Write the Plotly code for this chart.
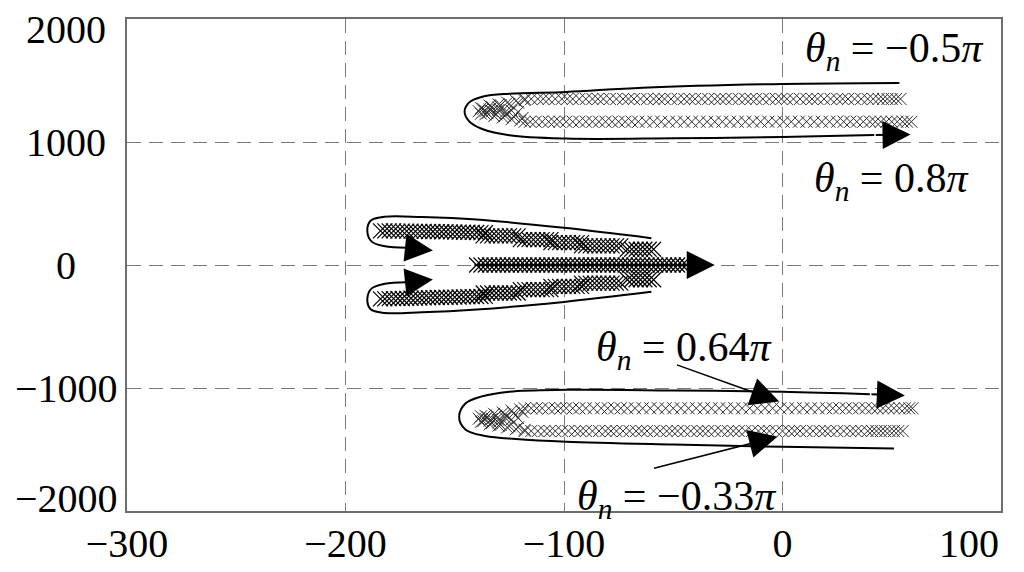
import plotly.graph_objects as go

# ---- marker rows (root locations) ----
# upper branch: two flat rows plus the dense cluster at the left end
TB_UP_Y = 1350
TB_UP_X = [-118, -115, -112, -109.5, -107, -104, -101, -98.5, -96, -93, -90, -87,
           -84.5, -82, -79, -76, -73, -70.5, -68, -65, -62, -59, -56.5, -54, -51,
           -48, -45, -42.5, -40, -37, -34, -31, -28.5, -26, -23, -20, -17, -14.5,
           -12, -9, -6, -3, -0.5, 2, 5, 8, 11, 13.5, 16, 19, 22, 25, 27.5, 30, 33,
           36, 39, 41.5, 44, 46, 48, 50, 52, 54]
TB_LO_Y = 1165
TB_LO_X = [-118, -115.5, -113, -110, -107, -104.5, -102, -99, -96, -93, -90, -87,
           -84, -81, -78, -75, -72, -69, -66, -62.5, -59, -55.5, -52, -48.5, -45,
           -41.5, -38, -34.5, -31, -27.5, -24, -20.5, -17, -13.5, -10, -6.5, -3,
           0.5, 4, 7.5, 11, 14.5, 18, 21.5, 25, 28, 31, 34, 37, 40, 42.5, 45, 47.5,
           50, 52.5, 55, 57, 59]
TB_CL_X = [-139, -137, -135, -133, -131, -129, -127, -125, -123, -121, -119,
           -138, -136, -134, -132, -130, -128, -126, -124, -122, -120, -118,
           -136, -133, -130, -127, -124, -121, -138, -134, -130, -126]
TB_CL_Y = [1250, 1270, 1235, 1285, 1225, 1300, 1215, 1310, 1205, 1320, 1195,
           1275, 1225, 1295, 1210, 1305, 1200, 1320, 1185, 1335, 1175, 1340,
           1250, 1250, 1260, 1240, 1255, 1245, 1230, 1265, 1280, 1230]

# lower branch
BB_UP_Y = -1165
BB_UP_X = [-118, -115, -112.5, -110, -107, -104, -101.5, -99, -96, -93, -90, -86.5,
           -83, -80, -77, -74, -71, -67.5, -64, -60.5, -57, -53.5, -50, -46.5, -43,
           -39.5, -36, -32.5, -29, -25.5, -22, -18.5, -15, -11.5, -8, -4.5, -1, 2.5,
           6, 9.5, 13, 16.5, 20, 23, 26, 29, 32, 35, 38, 41, 43.5, 46, 48.5, 51,
           53.5, 56, 58, 59.5]
BB_LO_Y = -1350
BB_LO_X = [-118, -115, -112, -109, -106.5, -104, -101, -98, -95, -92.5, -90, -87,
           -84, -81, -78.5, -76, -73, -70, -67, -64.5, -62, -59, -56, -53, -50.5,
           -48, -45, -42, -39, -36.5, -34, -31, -28, -25, -22.5, -20, -17, -14,
           -11, -8.5, -6, -3, 0, 3, 5.5, 8, 11, 14, 17, 19.5, 22, 25, 28, 31, 33.5,
           36, 39, 41, 43, 45, 47, 49, 51, 53, 55]
BB_CL_X = [-139, -137, -135, -133, -131, -129, -127, -125, -123, -121, -119,
           -138, -136, -134, -132, -130, -128, -126, -124, -122, -120, -118,
           -136, -133, -130, -127, -124, -121, -138, -134, -130, -126]
BB_CL_Y = [-1250, -1270, -1235, -1285, -1225, -1300, -1215, -1310, -1205, -1320, -1195,
           -1275, -1225, -1295, -1210, -1305, -1200, -1320, -1185, -1335, -1175, -1340,
           -1250, -1250, -1260, -1240, -1255, -1245, -1230, -1265, -1280, -1230]

# middle: stepped upper band, centre row on the real axis, stepped lower band
MID_UP_X = [-184, -182, -180, -178, -176, -174, -172, -170, -168, -166, -164, -162,
            -160, -158, -156, -154, -152, -150, -148, -146, -144, -142, -140, -138,
            -136,
            -137, -135, -133, -131, -129, -127, -125, -123, -121,
            -120, -118, -116, -114, -112, -110, -108, -106,
            -106, -104, -102, -100, -98, -96, -94, -92,
            -92, -90, -88, -86, -84, -82, -80, -78, -76, -74,
            -71, -69, -67, -65, -63, -61, -59]
MID_UP_Y = [278, 278, 277, 277, 276, 276, 275, 275, 274, 273, 273, 272,
            272, 271, 270, 270, 269, 268, 267, 266, 266, 265, 264, 263,
            262,
            237, 237, 237, 237, 237, 237, 237, 237, 237,
            206, 206, 206, 206, 206, 206, 206, 206,
            182, 182, 182, 182, 182, 182, 182, 182,
            155, 155, 155, 155, 155, 155, 155, 155, 155, 155,
            128, 128, 128, 128, 128, 128, 128]
MID_LO_X = [-184, -182, -180, -178, -176, -174, -172, -170, -168, -166, -164, -162,
            -160, -158, -156, -154, -152, -150, -148, -146, -144, -142, -140, -138,
            -136,
            -137, -135, -133, -131, -129, -127, -125, -123, -121,
            -120, -118, -116, -114, -112, -110, -108, -106,
            -106, -104, -102, -100, -98, -96, -94, -92,
            -92, -90, -88, -86, -84, -82, -80, -78, -76, -74,
            -71, -69, -67, -65, -63, -61, -59]
MID_LO_Y = [-275, -275, -274, -273, -272, -272, -271, -270, -269, -268, -267, -266,
            -265, -264, -263, -262, -262, -261, -260, -259, -258, -257, -256, -256,
            -255,
            -228, -228, -228, -228, -228, -228, -228, -228, -228,
            -200, -200, -200, -200, -200, -200, -200, -200,
            -174, -174, -174, -174, -174, -174, -174, -174,
            -147, -147, -147, -147, -147, -147, -147, -147, -147, -147,
            -120, -120, -120, -120, -120, -120, -120]
MID_CTR_Y = 0
MID_CTR_X = [-140, -138, -136, -134, -132, -130, -128, -126, -124, -122, -120, -118,
             -116, -114, -112, -110, -108, -106, -104, -102, -100, -98, -96, -94,
             -92, -90, -88, -86, -84, -82, -80, -78, -76, -74, -72, -70, -68, -66,
             -64, -62, -60, -58, -56, -54, -52, -50, -48, -46, -44]

# ---- envelope curves ----
TOP_ENV_X = [53.5, 0, -64, -99, -125, -137, -143.5, -145.5, -143.5, -138, -125, -99, -50, 0, 42]
TOP_ENV_Y = [1480, 1472, 1442, 1407, 1393, 1370, 1320, 1245, 1170, 1110, 1055, 1028, 1030, 1040, 1056]
BOT_ENV_X = [40, 0, -50, -99, -125, -138, -145, -148, -145, -136, -122, -99, -50, 0, 51]
BOT_ENV_Y = [-1050, -1030, -1020, -1015, -1030, -1070, -1124, -1233, -1339, -1390, -1415, -1437, -1460, -1478, -1491]
UP_LOOP_X = [-60, -100, -140, -165, -182, -188.5, -190, -188, -182, -172]
UP_LOOP_Y = [218, 302, 370, 390, 392, 360, 270, 190, 152, 140]
LO_LOOP_X = [-60, -100, -140, -165, -182, -188.5, -190, -188, -182, -172]
LO_LOOP_Y = [-218, -300, -362, -385, -390, -360, -270, -190, -152, -140]
CTR_LINE_X = [-141, -48]
CTR_LINE_Y = [0, 0]

# arrows: tail -> tip
ARROW_TAIL_X = [42, 40, -50, -172, -172]
ARROW_TAIL_Y = [1056, -1050, 0, 140, -140]
ARROW_TIP_X = [58.6, 56, -31, -160, -160]
ARROW_TIP_Y = [1061, -1061, 0, 118, -118]

# labels and their pointer arrows
LABELS = ["<i>θ</i><sub><i>n</i></sub> = −0.5<i>π</i>",
          "<i>θ</i><sub><i>n</i></sub> = 0.8<i>π</i>",
          "<i>θ</i><sub><i>n</i></sub> = 0.64<i>π</i>",
          "<i>θ</i><sub><i>n</i></sub> = −0.33<i>π</i>"]
LABEL_X = [51, 50, -45, -48.5]
LABEL_Y = [1740, 686, -694, -1905]
PTR_TAIL_X = [-49, -59.5]
PTR_TAIL_Y = [-808, -1655]
PTR_TIP_X = [-1.5, -2.3]
PTR_TIP_Y = [-1110, -1396]

X_TICKS = [-300, -200, -100, 0]
Y_TICKS = [-2000, -1000, 0, 1000, 2000]
Y_TICK_TEXT = ["−2000", "−1000", "0", "1000", "2000"]
Y_TICK_NUDGE = [13, 0, 0, 0, -10]  # end labels pulled inside the page, as in the original

SERIF = "Liberation Serif"
TICK_FONT = dict(family=SERIF, size=40, color="black")
MARK = dict(symbol="x-thin", size=12, line=dict(width=1, color="#2e2e2e"))
BAND = dict(symbol="x-thin", size=15, line=dict(width=1.2, color="#000000"))

fig = go.Figure()


def marks(x, y, m=MARK):
    fig.add_trace(go.Scatter(x=x, y=y, mode="markers", marker=m, hoverinfo="skip"))


marks(TB_UP_X, [TB_UP_Y] * len(TB_UP_X))
marks(TB_LO_X, [TB_LO_Y] * len(TB_LO_X))
marks(TB_CL_X, TB_CL_Y)
marks(BB_UP_X, [BB_UP_Y] * len(BB_UP_X))
marks(BB_LO_X, [BB_LO_Y] * len(BB_LO_X))
marks(BB_CL_X, BB_CL_Y)
marks(MID_UP_X, MID_UP_Y, BAND)
marks(MID_LO_X, MID_LO_Y, BAND)
marks(MID_CTR_X, [MID_CTR_Y] * len(MID_CTR_X), BAND)

for x, y in [(TOP_ENV_X, TOP_ENV_Y), (BOT_ENV_X, BOT_ENV_Y), (UP_LOOP_X, UP_LOOP_Y),
             (LO_LOOP_X, LO_LOOP_Y), (CTR_LINE_X, CTR_LINE_Y)]:
    fig.add_trace(go.Scatter(x=x, y=y, mode="lines", hoverinfo="skip",
                             line=dict(color="black", width=2, shape="spline", smoothing=1)))

for tx, ty, hx, hy in zip(ARROW_TAIL_X, ARROW_TAIL_Y, ARROW_TIP_X, ARROW_TIP_Y):
    fig.add_annotation(x=hx, y=hy, ax=tx, ay=ty, xref="x", yref="y", axref="x", ayref="y",
                       text="", showarrow=True, arrowhead=2, arrowsize=2.8, arrowwidth=2,
                       arrowcolor="black", standoff=0)

for tx, ty, hx, hy in zip(PTR_TAIL_X, PTR_TAIL_Y, PTR_TIP_X, PTR_TIP_Y):
    fig.add_annotation(x=hx, y=hy, ax=tx, ay=ty, xref="x", yref="y", axref="x", ayref="y",
                       text="", showarrow=True, arrowhead=2, arrowsize=3.8, arrowwidth=1.5,
                       arrowcolor="black", standoff=0)

for t, x, y in zip(LABELS, LABEL_X, LABEL_Y):
    fig.add_annotation(x=x, y=y, xref="x", yref="y", text=t, showarrow=False,
                       font=dict(family=SERIF, size=42, color="black"))

# y tick labels are centred in the left margin in the original
for v, t, dy in zip(Y_TICKS, Y_TICK_TEXT, Y_TICK_NUDGE):
    fig.add_annotation(x=0, y=v, xref="paper", yref="y", xanchor="center", yanchor="middle",
                       xshift=-61, yshift=dy, text=t, showarrow=False, font=TICK_FONT)

# last x label nudged left so it stays on the page
fig.add_annotation(x=100, y=0, xref="x", yref="paper", xanchor="right", yanchor="top",
                   yshift=-8, text="100", showarrow=False, font=TICK_FONT)

axis = dict(showgrid=True, gridcolor="#7a7a7a", gridwidth=1, griddash="14px,8px",
            zeroline=False, showline=True, mirror=True, linecolor="#6e6e6e", linewidth=1.5,
            ticks="", tickfont=TICK_FONT, automargin=False)

# the page body adds an 8px offset; margins are set so the plot box lands where it should
fig.update_layout(
    width=1016, height=564, showlegend=False,
    paper_bgcolor="white", plot_bgcolor="white",
    margin=dict(l=119, r=23, t=11, b=61),
    xaxis=dict(axis, range=[-300, 100], tickvals=X_TICKS, ticklabelstandoff=-4),
    yaxis=dict(axis, range=[-2000, 2000], tickvals=Y_TICKS, showticklabels=False),
)

fig.write_html("out.html")
